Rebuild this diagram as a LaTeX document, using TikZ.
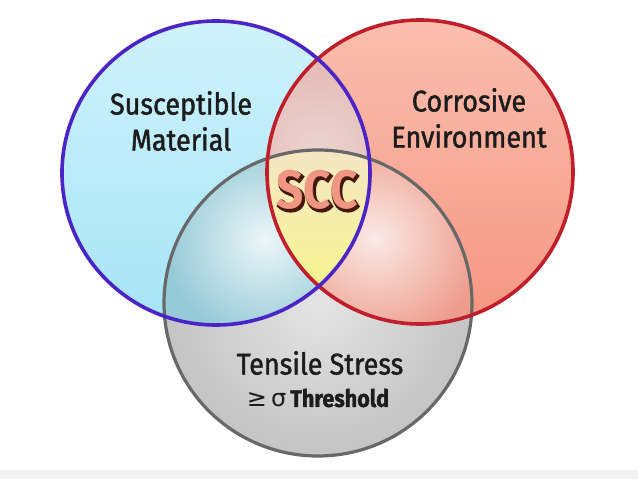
\documentclass[tikz,border=0pt]{standalone}
\usepackage{fontspec}
\usetikzlibrary{calc}
\setmainfont{Fira Sans}
\newfontfamily\labelfont{Fira Sans}[FakeStretch=0.9, FakeBold=1.4]
\newfontfamily\sccfont{Fira Sans}[FakeStretch=0.88]
\newfontfamily\sccoutline{Fira Sans}[FakeStretch=0.88, FakeBold=5]
\newfontfamily\symfont{DejaVu Sans}
\definecolor{bluestroke}{RGB}{74,36,198}
\definecolor{redstroke}{RGB}{192,30,42}
\definecolor{graystroke}{RGB}{104,104,104}
\definecolor{bluetop}{RGB}{206,242,252}
\definecolor{bluebot}{RGB}{166,228,246}
\definecolor{redtop}{RGB}{250,190,174}
\definecolor{redbot}{RGB}{246,150,130}
\definecolor{grayin}{RGB}{228,228,228}
\definecolor{grayout}{RGB}{196,196,196}
\definecolor{bginner}{RGB}{236,246,248}
\definecolor{bgouter}{RGB}{150,202,216}
\definecolor{rginner}{RGB}{250,234,230}
\definecolor{rgouter}{RGB}{238,156,140}
\definecolor{brinner}{RGB}{236,212,208}
\definecolor{brouter}{RGB}{226,180,176}
\definecolor{ytop}{RGB}{244,230,196}
\definecolor{ybot}{RGB}{246,246,140}
\definecolor{sccfill}{RGB}{240,150,130}
\definecolor{sccdark}{RGB}{70,24,12}
\definecolor{textdark}{RGB}{28,28,28}
\tikzset{
  ring/.style={line width=3.6pt},
  lbl/.style={text=textdark, align=center, inner sep=0pt,
    font=\labelfont\fontsize{30}{36}\selectfont},
  scctext/.style={inner sep=0pt, font=\sccfont\bfseries\fontsize{54}{54}\selectfont},
  sccback/.style={inner sep=0pt, font=\sccoutline\bfseries\fontsize{54}{54}\selectfont}
}
\begin{document}
\begin{tikzpicture}[x=1pt,y=-1pt]
\useasboundingbox (0,0) rectangle (638,479);
\fill[white] (0,0) rectangle (638,479);
\fill[black!5] (0,470) rectangle (638,479);
\coordinate (B) at (216,173);
\coordinate (R) at (420,172);
\coordinate (G) at (318,303);
% base fills
\shade[top color=bluetop, bottom color=bluebot] (B) ellipse [x radius=154pt, y radius=152pt];
\shade[top color=redtop, bottom color=redbot] (R) ellipse [x radius=153pt, y radius=152pt];
\shade[inner color=grayin, outer color=grayout] (G) ellipse [x radius=154pt, y radius=153pt];
% blue & red
\begin{scope}
\clip (B) ellipse [x radius=154pt, y radius=152pt];
\clip (R) ellipse [x radius=153pt, y radius=152pt];
\fill[brouter] (260,0) rectangle (380,330);
\shade[inner color=brinner, outer color=brouter] (318,150) circle (110pt);
\end{scope}
% blue & gray
\begin{scope}
\clip (B) ellipse [x radius=154pt, y radius=152pt];
\clip (G) ellipse [x radius=154pt, y radius=153pt];
\fill[bgouter] (150,140) rectangle (380,340);
\shade[inner color=bginner, outer color=bgouter] (265,240) circle (100pt);
\end{scope}
% red & gray
\begin{scope}
\clip (R) ellipse [x radius=153pt, y radius=152pt];
\clip (G) ellipse [x radius=154pt, y radius=153pt];
\fill[rgouter] (250,140) rectangle (480,340);
\shade[inner color=rginner, outer color=rgouter] (375,238) circle (108pt);
\end{scope}
% all three
\begin{scope}
\clip (B) ellipse [x radius=154pt, y radius=152pt];
\clip (R) ellipse [x radius=153pt, y radius=152pt];
\clip (G) ellipse [x radius=154pt, y radius=153pt];
\shade[top color=ytop, bottom color=ybot] (260,150) rectangle (380,295);
\end{scope}
% outlines
\draw[ring, graystroke, line width=3.2pt] (G) ellipse [x radius=154pt, y radius=153pt];
\draw[ring, redstroke] (R) ellipse [x radius=153pt, y radius=152pt];
\draw[ring, bluestroke] (B) ellipse [x radius=154pt, y radius=152pt];
% labels
\node[lbl] (mat) at (181,121) {Susceptible\\Material};
\node[lbl] (env) at (469,118) {Corrosive\\Environment};
\node[lbl] (ts) at (320,363) {Tensile Stress};
\node[text=textdark, inner sep=0pt] (thr) at (318,398)
  {{\symfont\fontsize{24}{24}\selectfont ≥\,σ}\hspace{4pt}{\labelfont\bfseries\fontsize{24}{24}\selectfont Threshold}};
% SCC with outline and shadow
\coordinate (S) at (317,190);
\node[sccback, text=sccdark] (sccshadow) at ($(S)+(1.2,1.6)$) {SCC};
\node[scctext, text=sccfill] (scc) at (S) {SCC};
\end{tikzpicture}
\end{document}
